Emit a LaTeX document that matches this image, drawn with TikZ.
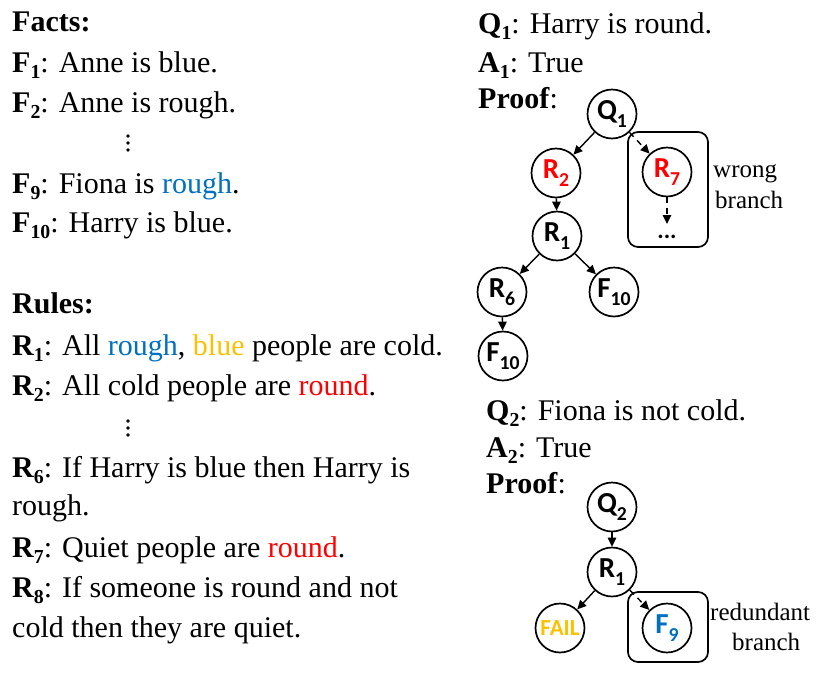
\documentclass[tikz,border=0pt]{standalone}
\usepackage{fontspec}
\setmainfont{Liberation Serif}
\newfontfamily\nodefont{Carlito}
\usetikzlibrary{shapes.geometric,arrows.meta}
\definecolor{mblue}{RGB}{0,112,192}
\definecolor{morange}{RGB}{255,192,0}
\definecolor{mred}{RGB}{255,0,0}
\newcommand{\mysub}[1]{\raisebox{-0.22em}{\scalebox{0.66}{#1}}}
\newcommand{\nsub}[1]{\raisebox{-0.27em}{\scalebox{0.68}{#1}}}
\newcommand{\lab}[2]{\textbf{#1\mysub{#2}}:}
\begin{document}
\begin{tikzpicture}[x=1pt,y=-1pt,
  txt/.style={anchor=base west, inner sep=0pt, font=\fontsize{30}{36}\selectfont},
  side/.style={anchor=base west, inner sep=0pt, font=\fontsize{25}{31}\selectfont},
  pnode/.style={draw, line width=1.7pt, circle, minimum size=49pt, inner sep=0pt, font=\nodefont\bfseries\fontsize{29}{31}\selectfont},
  arr/.style={-{Triangle[length=9pt,width=8.5pt]}, line width=1.4pt},
  darr/.style={arr, dash pattern=on 6pt off 5pt},
  branchbox/.style={draw, line width=1.7pt, rounded corners=10pt, inner sep=0pt},
  vdot/.style={fill, circle, inner sep=0pt, minimum size=3.6pt}
]
\path[use as bounding box] (0,0) rectangle (830,678);

% Facts
\node[txt] (facts) at (12,31) {\textbf{Facts:}};
\node[txt] (f1) at (12,72) {\lab{F}{1} Anne is blue.};
\node[txt] (f2) at (12,112) {\lab{F}{2} Anne is rough.};
\node[vdot] (fd1) at (128,136) {};
\node[vdot] (fd2) at (128,143) {};
\node[vdot] (fd3) at (128,150) {};
\node[txt] (f9) at (12,193) {\lab{F}{9} Fiona is \textcolor{mblue}{rough}.};
\node[txt] (f10) at (12,232) {\lab{F}{10} Harry is blue.};

% Rules
\node[txt] (rules) at (12,313) {\textbf{Rules:}};
\node[txt] (r1) at (12,355) {\lab{R}{1} All \textcolor{mblue}{rough}, \textcolor{morange}{blue} people are cold.};
\node[txt] (r2) at (12,395) {\lab{R}{2} All cold people are \textcolor{mred}{round}.};
\node[vdot] (rd1) at (128,421) {};
\node[vdot] (rd2) at (128,428) {};
\node[vdot] (rd3) at (128,435) {};
\node[txt] (r6) at (12,477) {\lab{R}{6} If Harry is blue then Harry is};
\node[txt] (r6b) at (12,515) {rough.};
\node[txt] (r7) at (12,557) {\lab{R}{7} Quiet people are \textcolor{mred}{round}.};
\node[txt] (r8) at (12,597) {\lab{R}{8} If someone is round and not};
\node[txt] (r8b) at (12,637) {cold then they are quiet.};

% Question 1
\node[txt] (q1) at (478,33) {\lab{Q}{1} Harry is round.};
\node[txt] (a1) at (478,72) {\lab{A}{1} True};
\node[txt] (p1) at (478,108) {\textbf{Proof}:};

\node[branchbox, minimum width=80pt, minimum height=115pt] (wbox) at (668,189.5) {};
\node[pnode] (nq1) at (612,114) {Q\nsub{1}};
\node[pnode, text=mred] (nr2) at (556,173) {R\nsub{2}};
\node[pnode, text=mred] (nr7) at (667,172) {R\nsub{7}};
\node[pnode] (nr1a) at (557,236) {R\nsub{1}};
\node[pnode] (nr6) at (502,292) {R\nsub{6}};
\node[pnode] (nf10a) at (614,292) {F\nsub{10}};
\node[pnode] (nf10b) at (503,356) {F\nsub{10}};
\node[anchor=base, inner sep=0pt, font=\nodefont\bfseries\fontsize{24}{26}\selectfont] (wdots) at (667,238) {...};
\coordinate (wend) at (667,224);
\node[side] (wl1) at (713,177) {wrong};
\node[side] (wl2) at (715,208) {branch};

\draw[arr] (nq1) -- (nr2);
\draw[darr] (nq1) -- (nr7);
\draw[arr] (nr2) -- (nr1a);
\draw[arr] (nr1a) -- (nr6);
\draw[arr] (nr1a) -- (nf10a);
\draw[arr] (nr6) -- (nf10b);
\draw[darr] (nr7) -- (wend);

% Question 2
\node[txt] (q2) at (486,420) {\lab{Q}{2} Fiona is not cold.};
\node[txt] (a2) at (486,457) {\lab{A}{2} True};
\node[txt] (p2) at (486,493) {\textbf{Proof}:};

\node[branchbox, minimum width=80pt, minimum height=70pt] (rbox) at (668,627) {};
\node[pnode] (nq2) at (612,507) {Q\nsub{2}};
\node[pnode] (nr1b) at (612,572) {R\nsub{1}};
\node[pnode, text=morange, font=\nodefont\bfseries\fontsize{23}{25}\selectfont] (nfail) at (560,628) {FAIL};
\node[pnode, text=mblue] (nf9) at (667,628) {F\nsub{9}};
\node[side] (rl1) at (710,620) {redundant};
\node[side] (rl2) at (732,650) {branch};

\draw[arr] (nq2) -- (nr1b);
\draw[arr] (nr1b) -- (nfail);
\draw[darr] (nr1b) -- (nf9);
\end{tikzpicture}
\end{document}
